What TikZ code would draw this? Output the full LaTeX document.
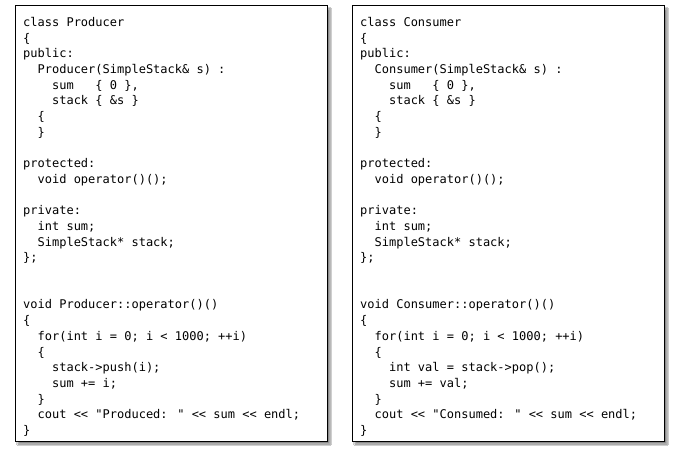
\documentclass[tikz,border=0pt]{standalone}
\usepackage{fontspec}
\newfontfamily\code{DejaVu Sans Mono}
\usetikzlibrary{shadows.blur}
\begin{document}
\begin{tikzpicture}[x=1pt,y=1pt,
  codebox/.style={draw=black,line width=1pt,fill=white,
    blur shadow={shadow xshift=3pt,shadow yshift=-3pt,shadow blur steps=6,shadow opacity=50}},
  codetext/.style={anchor=north west,inner sep=0pt,align=left,
    font=\code\fontsize{12}{15.7}\selectfont}]
\useasboundingbox (0,0) rectangle (678,459);
\fill[white] (0,0) rectangle (678,459);
\path[codebox] (15,18) rectangle (327,453);
\path[codebox] (352,18) rectangle (664,453);
\node[codetext] (prod) at (23,442) {class Producer\\
\{\\
public:\\
~~Producer(SimpleStack\& s) :\\
~~~~sum~~~\{ 0 \},\\
~~~~stack \{ \&s \}\\
~~\{\\
~~\}\\
\mbox{}\\
protected:\\
~~void operator()();\\
\mbox{}\\
private:\\
~~int sum;\\
~~SimpleStack* stack;\\
\};\\
\mbox{}\\
\mbox{}\\
void Producer::operator()()\\
\{\\
~~for(int i = 0; i < 1000; ++i)\\
~~\{\\
~~~~stack->push(i);\\
~~~~sum += i;\\
~~\}\\
~~cout << "Produced: " << sum << endl;\\
\}};
\node[codetext] (cons) at (360,442) {class Consumer\\
\{\\
public:\\
~~Consumer(SimpleStack\& s) :\\
~~~~sum~~~\{ 0 \},\\
~~~~stack \{ \&s \}\\
~~\{\\
~~\}\\
\mbox{}\\
protected:\\
~~void operator()();\\
\mbox{}\\
private:\\
~~int sum;\\
~~SimpleStack* stack;\\
\};\\
\mbox{}\\
\mbox{}\\
void Consumer::operator()()\\
\{\\
~~for(int i = 0; i < 1000; ++i)\\
~~\{\\
~~~~int val = stack->pop();\\
~~~~sum += val;\\
~~\}\\
~~cout << "Consumed: " << sum << endl;\\
\}};
\end{tikzpicture}
\end{document}
